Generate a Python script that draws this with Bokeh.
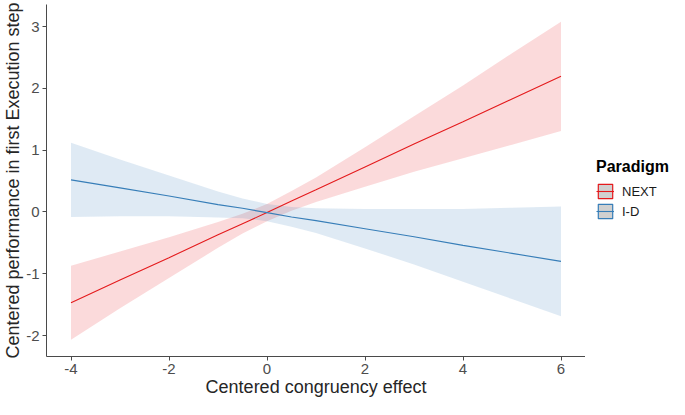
from bokeh.plotting import figure
from bokeh.layouts import row
from bokeh.models import Range1d, FixedTicker, Legend, LegendItem
from bokeh.embed import file_html
from bokeh.resources import INLINE

# ---- data ----
x_grid = [-4, -3, -2, -1, -0.5, 0, 0.5, 1, 2, 3, 4, 5, 6]

next_fit = [-1.47, -1.10, -0.74, -0.37, -0.19, -0.01, 0.18, 0.36, 0.73, 1.10, 1.46, 1.83, 2.20]
next_upper = [-0.87, -0.64, -0.41, -0.16, -0.03, 0.13, 0.34, 0.56, 1.05, 1.55, 2.05, 2.57, 3.08]
next_lower = [-2.07, -1.56, -1.07, -0.58, -0.35, -0.15, 0.02, 0.16, 0.41, 0.65, 0.87, 1.09, 1.31]

id_fit = [0.52, 0.39, 0.26, 0.12, 0.06, -0.01, -0.08, -0.14, -0.27, -0.40, -0.54, -0.67, -0.80]
id_upper = [1.12, 0.85, 0.59, 0.33, 0.22, 0.13, 0.08, 0.06, 0.05, 0.05, 0.05, 0.07, 0.09]
id_lower = [-0.08, -0.07, -0.07, -0.09, -0.10, -0.15, -0.24, -0.34, -0.59, -0.85, -1.13, -1.41, -1.69]

series_names = ["NEXT", "I-D"]
series_colors = ["#E41A1C", "#377EB8"]

x_ticks = [-4, -2, 0, 2, 4, 6]
y_ticks = [-2, -1, 0, 1, 2, 3]
x_tick_labels = ["-4", "-2", "0", "2", "4", "6"]
y_tick_labels = ["-2", "-1", "0", "1", "2", "3"]

FONT = "Liberation Sans"
H = 399

p = figure(width=585, height=H, output_backend="svg", toolbar_location=None,
           x_range=Range1d(-4.5, 6.5), y_range=Range1d(-2.34, 3.36),
           min_border_top=4, min_border_left=0, min_border_right=0, min_border_bottom=0)
p.outline_line_color = None
p.xgrid.visible = False
p.ygrid.visible = False
p.background_fill_color = "white"

fits = [next_fit, id_fit]
uppers = [next_upper, id_upper]
lowers = [next_lower, id_lower]

for up, lo, col in zip(uppers, lowers, series_colors):
    p.varea(x=x_grid, y1=lo, y2=up, fill_color=col, fill_alpha=0.16)

for fit, col in zip(fits, series_colors):
    p.line(x=x_grid, y=fit, line_color=col, line_width=1.1)

for ax in (p.xaxis[0], p.yaxis[0]):
    ax.axis_line_color = "#4a4a4a"
    ax.axis_line_width = 1
    ax.major_tick_line_color = "#4a4a4a"
    ax.major_tick_in = 0
    ax.major_tick_out = 4
    ax.minor_tick_line_color = None
    ax.major_label_text_font = FONT
    ax.major_label_text_font_size = "15px"
    ax.major_label_text_color = "#4D4D4D"
    ax.major_label_standoff = 3
    ax.axis_label_text_font = FONT
    ax.axis_label_text_font_size = "18px"
    ax.axis_label_text_font_style = "normal"
    ax.axis_label_text_color = "#262626"
    ax.axis_label_standoff = 0

p.xaxis[0].ticker = FixedTicker(ticks=x_ticks)
p.yaxis[0].ticker = FixedTicker(ticks=y_ticks)
p.xaxis[0].major_label_overrides = {t: s for t, s in zip(x_ticks, x_tick_labels)}
p.yaxis[0].major_label_overrides = {t: s for t, s in zip(y_ticks, y_tick_labels)}
p.xaxis[0].axis_label = "Centered congruency effect"
p.yaxis[0].axis_label = "Centered performance in first Execution step"

# ---- legend panel ----
pl = figure(width=84, height=H, output_backend="svg", toolbar_location=None,
            x_range=Range1d(0, 1), y_range=Range1d(0, 1), min_border=0)
pl.outline_line_color = None
pl.axis.visible = False
pl.xgrid.visible = False
pl.ygrid.visible = False

items = []
for name, col in zip(series_names, series_colors):
    q = pl.quad(left=[10], right=[11], top=[11], bottom=[10], fill_color="#D0D0D0",
                line_color=col, line_width=1.2)
    ln = pl.line(x=[10, 11], y=[10, 10], line_color=col, line_width=1.1)
    items.append(LegendItem(label=name, renderers=[q, ln]))

legend = Legend(items=items, title="Paradigm", location=(11, 136))
legend.title_text_font = FONT
legend.title_text_font_style = "bold"
legend.title_text_font_size = "16px"
legend.title_text_color = "black"
legend.title_standoff = 6
legend.label_text_font = FONT
legend.label_text_font_size = "13px"
legend.label_text_color = "#1a1a1a"
legend.glyph_width = 18
legend.glyph_height = 18
legend.label_height = 18
legend.label_standoff = 8
legend.spacing = 2
legend.padding = 0
legend.margin = 0
legend.border_line_color = None
legend.background_fill_alpha = 0
pl.add_layout(legend, "center")

layout = row(p, pl)
open("out.html", "w").write(file_html(layout, INLINE))
